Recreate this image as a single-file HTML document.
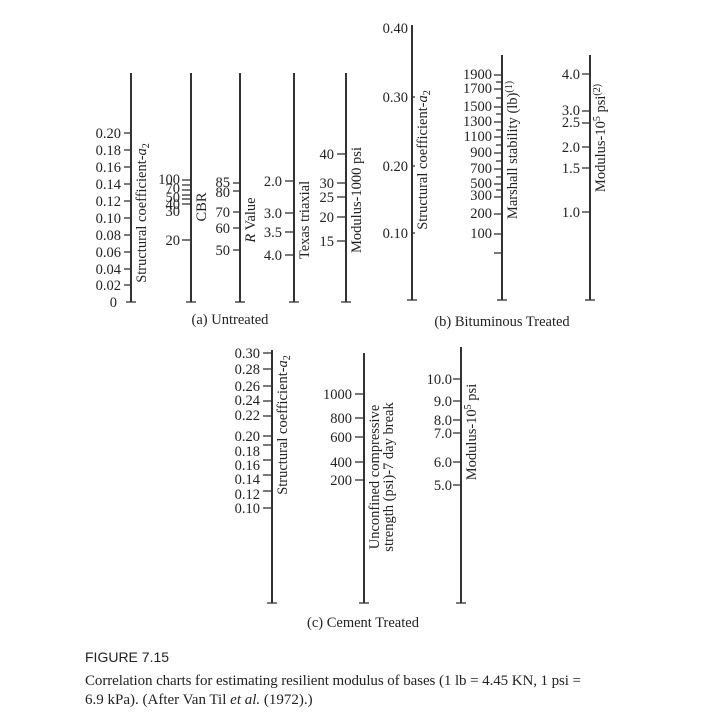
<!DOCTYPE html>
<html><head><meta charset="utf-8"><style>
html,body{margin:0;padding:0;background:#fff;}
svg{display:block;}
text{font-family:"Liberation Serif",serif;fill:#222;}
.t{font-size:14.5px;text-anchor:end;}
.l{font-size:14.5px;text-anchor:middle;}
line{stroke:#333;stroke-width:1.3;}
.ax{stroke-width:2;}
</style></head><body>
<svg width="722" height="719" viewBox="0 0 722 719" xmlns="http://www.w3.org/2000/svg">
<!-- (a) axis 1 -->
<line class="ax" x1="131" y1="73" x2="131" y2="302"/><line x1="126" y1="302" x2="136" y2="302"/>
<g>
<line x1="124" y1="133" x2="131" y2="133"/><text class="t" x="121" y="138">0.20</text>
<line x1="124" y1="150" x2="131" y2="150"/><text class="t" x="121" y="155">0.18</text>
<line x1="124" y1="167" x2="131" y2="167"/><text class="t" x="121" y="172">0.16</text>
<line x1="124" y1="184" x2="131" y2="184"/><text class="t" x="121" y="189">0.14</text>
<line x1="124" y1="201" x2="131" y2="201"/><text class="t" x="121" y="206">0.12</text>
<line x1="124" y1="218" x2="131" y2="218"/><text class="t" x="121" y="223">0.10</text>
<line x1="124" y1="235" x2="131" y2="235"/><text class="t" x="121" y="240">0.08</text>
<line x1="124" y1="252" x2="131" y2="252"/><text class="t" x="121" y="257">0.06</text>
<line x1="124" y1="269" x2="131" y2="269"/><text class="t" x="121" y="274">0.04</text>
<line x1="124" y1="285" x2="131" y2="285"/><text class="t" x="121" y="290">0.02</text>
<text class="t" x="117" y="307">0</text>
</g>
<text class="l" transform="translate(146,213) rotate(-90)">Structural coefficient-<tspan font-style="italic">a</tspan><tspan font-size="10" dy="3">2</tspan></text>
<!-- CBR -->
<line class="ax" x1="191" y1="73" x2="191" y2="302"/><line x1="186" y1="302" x2="196" y2="302"/>
<line x1="182" y1="180" x2="191" y2="180"/><line x1="182" y1="185" x2="191" y2="185"/><line x1="182" y1="190" x2="191" y2="190"/><line x1="182" y1="195" x2="191" y2="195"/><line x1="182" y1="199" x2="191" y2="199"/><line x1="182" y1="204" x2="191" y2="204"/><line x1="182" y1="240" x2="191" y2="240"/>
<text class="t" x="180" y="184" font-size="13.5">100</text><text class="t" x="180" y="193" font-size="13.5">70</text><text class="t" x="180" y="202" font-size="13.5">50</text><text class="t" x="180" y="209" font-size="13.5">40</text><text class="t" x="180" y="216" font-size="13.5">30</text><text class="t" x="180" y="245">20</text>
<text class="l" transform="translate(206,207) rotate(-90)">CBR</text>
<!-- R value -->
<line class="ax" x1="240" y1="73" x2="240" y2="302"/><line x1="235" y1="302" x2="245" y2="302"/>
<line x1="233" y1="183" x2="240" y2="183"/><line x1="233" y1="191" x2="240" y2="191"/><line x1="233" y1="212" x2="240" y2="212"/><line x1="233" y1="228" x2="240" y2="228"/><line x1="233" y1="250" x2="240" y2="250"/>
<text class="t" x="230" y="187">85</text><text class="t" x="230" y="197">80</text><text class="t" x="230" y="217">70</text><text class="t" x="230" y="233">60</text><text class="t" x="230" y="255">50</text>
<text class="l" transform="translate(255,220) rotate(-90)"><tspan font-style="italic">R</tspan> Value</text>
<!-- Texas -->
<line class="ax" x1="294" y1="73" x2="294" y2="302"/><line x1="289" y1="302" x2="299" y2="302"/>
<line x1="285" y1="181" x2="294" y2="181"/><line x1="285" y1="213" x2="294" y2="213"/><line x1="285" y1="232" x2="294" y2="232"/><line x1="285" y1="255" x2="294" y2="255"/>
<text class="t" x="282" y="186">2.0</text><text class="t" x="282" y="218">3.0</text><text class="t" x="282" y="237">3.5</text><text class="t" x="282" y="260">4.0</text>
<text class="l" transform="translate(309,220) rotate(-90)">Texas triaxial</text>
<!-- Modulus -->
<line class="ax" x1="346" y1="73" x2="346" y2="302"/><line x1="341" y1="302" x2="351" y2="302"/>
<line x1="337" y1="154" x2="346" y2="154"/><line x1="337" y1="183" x2="346" y2="183"/><line x1="337" y1="197" x2="346" y2="197"/><line x1="337" y1="217" x2="346" y2="217"/><line x1="337" y1="241" x2="346" y2="241"/>
<text class="t" x="334" y="159">40</text><text class="t" x="334" y="188">30</text><text class="t" x="334" y="202">25</text><text class="t" x="334" y="222">20</text><text class="t" x="334" y="246">15</text>
<text class="l" transform="translate(361,200) rotate(-90)">Modulus-1000 psi</text>
<text class="l" x="230" y="324">(a) Untreated</text>

<!-- (b) -->
<line class="ax" x1="412" y1="25" x2="412" y2="300"/><line x1="407" y1="300" x2="417" y2="300"/>
<line x1="412" y1="97" x2="415" y2="97"/><line x1="412" y1="166" x2="415" y2="166"/><line x1="412" y1="233" x2="415" y2="233"/>
<text class="t" x="408" y="33">0.40</text><text class="t" x="408" y="102">0.30</text><text class="t" x="408" y="171">0.20</text><text class="t" x="408" y="238">0.10</text>
<text class="l" transform="translate(427,160) rotate(-90)">Structural coefficient-<tspan font-style="italic">a</tspan><tspan font-size="10" dy="3">2</tspan></text>
<line class="ax" x1="502" y1="55" x2="502" y2="300"/><line x1="497" y1="300" x2="507" y2="300"/>
<g>
<line x1="494" y1="75" x2="502" y2="75"/><line x1="496" y1="82" x2="502" y2="82"/><line x1="494" y1="89" x2="502" y2="89"/><line x1="496" y1="98" x2="502" y2="98"/><line x1="494" y1="107" x2="502" y2="107"/><line x1="496" y1="114" x2="502" y2="114"/><line x1="494" y1="122" x2="502" y2="122"/><line x1="496" y1="130" x2="502" y2="130"/><line x1="494" y1="137" x2="502" y2="137"/><line x1="496" y1="145" x2="502" y2="145"/><line x1="494" y1="153" x2="502" y2="153"/><line x1="496" y1="161" x2="502" y2="161"/><line x1="494" y1="169" x2="502" y2="169"/><line x1="496" y1="177" x2="502" y2="177"/><line x1="494" y1="184" x2="502" y2="184"/><line x1="496" y1="190" x2="502" y2="190"/><line x1="494" y1="197" x2="502" y2="197"/><line x1="494" y1="214" x2="502" y2="214"/><line x1="494" y1="234" x2="502" y2="234"/><line x1="494" y1="253" x2="502" y2="253"/>
</g>
<g font-size="13.5">
<text class="t" x="492" y="79" font-size="13.5">1900</text><text class="t" x="492" y="93" font-size="13.5">1700</text><text class="t" x="492" y="111" font-size="13.5">1500</text><text class="t" x="492" y="126" font-size="13.5">1300</text><text class="t" x="492" y="141" font-size="13.5">1100</text><text class="t" x="492" y="157" font-size="13.5">900</text><text class="t" x="492" y="173" font-size="13.5">700</text><text class="t" x="492" y="188" font-size="13.5">500</text><text class="t" x="492" y="200" font-size="13.5">300</text><text class="t" x="492" y="218" font-size="13.5">200</text><text class="t" x="492" y="238" font-size="13.5">100</text>
</g>
<text class="l" transform="translate(517,150) rotate(-90)">Marshall stability (lb)<tspan font-size="10" dy="-5">(1)</tspan></text>
<line class="ax" x1="590" y1="55" x2="590" y2="300"/><line x1="585" y1="300" x2="595" y2="300"/>
<line x1="582" y1="74" x2="590" y2="74"/><line x1="582" y1="111" x2="590" y2="111"/><line x1="582" y1="123" x2="590" y2="123"/><line x1="582" y1="147" x2="590" y2="147"/><line x1="582" y1="168" x2="590" y2="168"/><line x1="582" y1="212" x2="590" y2="212"/>
<text class="t" x="580" y="79">4.0</text><text class="t" x="580" y="115">3.0</text><text class="t" x="580" y="127">2.5</text><text class="t" x="580" y="152">2.0</text><text class="t" x="580" y="173">1.5</text><text class="t" x="580" y="217">1.0</text>
<text class="l" transform="translate(605,138) rotate(-90)">Modulus-10<tspan font-size="10" dy="-5">5</tspan><tspan dy="5"> psi</tspan><tspan font-size="10" dy="-5">(2)</tspan></text>
<text class="l" x="502" y="326">(b) Bituminous Treated</text>

<!-- (c) -->
<line class="ax" x1="272" y1="350" x2="272" y2="603"/><line x1="267" y1="603" x2="277" y2="603"/>
<line x1="263" y1="353" x2="272" y2="353"/><line x1="263" y1="369" x2="272" y2="369"/><line x1="263" y1="386" x2="272" y2="386"/><line x1="263" y1="401" x2="272" y2="401"/><line x1="263" y1="416" x2="272" y2="416"/><line x1="263" y1="436" x2="272" y2="436"/><line x1="263" y1="445" x2="272" y2="445"/><line x1="263" y1="460" x2="272" y2="460"/><line x1="263" y1="475" x2="272" y2="475"/><line x1="263" y1="491" x2="272" y2="491"/><line x1="263" y1="508" x2="272" y2="508"/>
<g>
<text class="t" x="260" y="358">0.30</text><text class="t" x="260" y="374">0.28</text><text class="t" x="260" y="391">0.26</text><text class="t" x="260" y="405">0.24</text><text class="t" x="260" y="420">0.22</text><text class="t" x="260" y="441">0.20</text><text class="t" x="260" y="456">0.18</text><text class="t" x="260" y="470">0.16</text><text class="t" x="260" y="484">0.14</text><text class="t" x="260" y="499">0.12</text><text class="t" x="260" y="513">0.10</text>
</g>
<text class="l" transform="translate(287,425) rotate(-90)">Structural coefficient-<tspan font-style="italic">a</tspan><tspan font-size="10" dy="3">2</tspan></text>
<line class="ax" x1="364" y1="353" x2="364" y2="603"/><line x1="359" y1="603" x2="369" y2="603"/>
<line x1="355" y1="394" x2="364" y2="394"/><line x1="355" y1="418" x2="364" y2="418"/><line x1="355" y1="437" x2="364" y2="437"/><line x1="355" y1="462" x2="364" y2="462"/><line x1="355" y1="480" x2="364" y2="480"/>
<text class="t" x="352" y="399">1000</text><text class="t" x="352" y="423">800</text><text class="t" x="352" y="442">600</text><text class="t" x="352" y="467">400</text><text class="t" x="352" y="485">200</text>
<text class="l" transform="translate(379,477) rotate(-90)">Unconfined compressive</text>
<text class="l" transform="translate(393,477) rotate(-90)">strength (psi)-7 day break</text>
<line class="ax" x1="461" y1="347" x2="461" y2="603"/><line x1="456" y1="603" x2="466" y2="603"/>
<line x1="453" y1="379" x2="461" y2="379"/><line x1="453" y1="401" x2="461" y2="401"/><line x1="453" y1="420" x2="461" y2="420"/><line x1="453" y1="433" x2="461" y2="433"/><line x1="453" y1="462" x2="461" y2="462"/><line x1="453" y1="485" x2="461" y2="485"/>
<text class="t" x="452" y="384">10.0</text><text class="t" x="452" y="406">9.0</text><text class="t" x="452" y="425">8.0</text><text class="t" x="452" y="438">7.0</text><text class="t" x="452" y="467">6.0</text><text class="t" x="452" y="490">5.0</text>
<text class="l" transform="translate(476,432) rotate(-90)">Modulus-10<tspan font-size="10" dy="-5">5</tspan><tspan dy="5"> psi</tspan></text>
<text class="l" x="363" y="627">(c) Cement Treated</text>

<text x="85" y="662" style="font-family:'Liberation Sans',sans-serif;font-size:14px;" fill="#222">FIGURE 7.15</text>
<text x="85" y="685" style="font-size:15px;" textLength="496">Correlation charts for estimating resilient modulus of bases (1 lb = 4.45 KN, 1 psi =</text>
<text x="85" y="704" style="font-size:15px;">6.9 kPa). (After Van Til <tspan font-style="italic">et al.</tspan> (1972).)</text>
</svg>
</body></html>
